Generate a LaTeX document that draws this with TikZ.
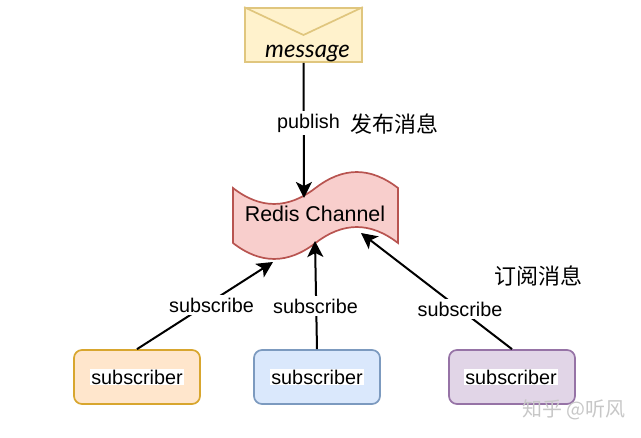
\documentclass[tikz,border=0pt]{standalone}
\usepackage{fontspec}
\setmainfont{Liberation Sans}
\newfontfamily\cjk{Noto Sans CJK SC}
\newfontfamily\hand{Lato}
\usetikzlibrary{arrows.meta}
\definecolor{envfill}{HTML}{FFF2CC}
\definecolor{envline}{HTML}{E0C67E}
\definecolor{wavefill}{HTML}{F8CECC}
\definecolor{waveline}{HTML}{B85450}
\definecolor{orangefill}{HTML}{FFE6CC}
\definecolor{orangeline}{HTML}{D8A62E}
\definecolor{bluefill}{HTML}{DAE8FC}
\definecolor{blueline}{HTML}{7C9ABF}
\definecolor{purplefill}{HTML}{E1D5E7}
\definecolor{purpleline}{HTML}{9673A6}
\tikzset{
  x=1pt,y=-1pt,
  subbox/.style={draw=#1line,fill=#1fill,line width=1.7pt,rounded corners=8pt,minimum width=126pt,minimum height=54pt,inner sep=0pt},
  subtext/.style={fill=white,font=\fontsize{19.8}{22}\selectfont,inner sep=1pt},
  conn/.style={line width=2pt,-{Stealth[length=16pt,width=16pt,inset=4pt]},black},
  lbl/.style={fill=white,font=\fontsize{19.8}{22}\selectfont,inner xsep=1pt,inner ysep=3pt,text=black},
  cn/.style={font=\cjk\fontsize{22}{26}\selectfont,text=black,inner sep=0pt},
}
\begin{document}
\begin{tikzpicture}
\useasboundingbox (0,0) rectangle (641,438);
% envelope
\node[draw=envline,fill=envfill,line width=1.7pt,minimum width=117pt,minimum height=54pt,inner sep=0pt] (msg) at (303.5,35) {};
\coordinate (flap) at (303.5,35);
\draw[envline,line width=1.7pt] (msg.north west) -- (flap) -- (msg.north east);
\node[font=\hand\itshape\fontsize{24}{26}\selectfont,inner sep=0pt,text=black] (msgtext) at (307.5,54) {message};
% wave
\draw[draw=waveline,fill=wavefill,line width=1.7pt]
  (233,188) .. controls (260.3,209.3) and (287.8,209.3) .. (315.5,188)
  .. controls (343.2,166.7) and (370.3,166.7) .. (398,188)
  -- (398,243)
  .. controls (370.3,221.7) and (343.2,221.7) .. (315.5,243)
  .. controls (287.8,264.3) and (260.3,264.3) .. (233,243) -- cycle;
\node[font=\fontsize{21.4}{24}\selectfont,inner sep=0pt,text=black] (redis) at (315,214) {Redis Channel};
\coordinate (topin) at (304,198);
\coordinate (leftin) at (273,262);
\coordinate (midin) at (315,241);
\coordinate (rightin) at (361,233);
% boxes
\node[subbox=orange] (s1) at (137,377) {};
\node[subbox=blue] (s2) at (317,377) {};
\node[subbox=purple] (s3) at (512,377) {};
\node[subtext] (t1) at (137,377) {subscriber};
\node[subtext] (t2) at (317,377) {subscriber};
\node[subtext] (t3) at (511,377) {subscriber};
% connectors
\draw[conn] (msg.south) -- (topin);
\draw[conn] (s1.north) -- (leftin);
\draw[conn] (s2.north) -- (midin);
\draw[conn] (s3.north) -- (rightin);
% connector labels
\node[lbl] (l0) at (308.5,123) {publish};
\node[lbl] (l1) at (211.5,305) {subscribe};
\node[lbl] (l2) at (315.5,306) {subscribe};
\node[lbl] (l3) at (460,309) {subscribe};
% notes
\node[cn] (c1) at (394,124) {发布消息};
\node[cn] (c2) at (538,276) {订阅消息};
\node[font=\cjk\fontsize{20}{24}\selectfont,text=black!22,inner sep=0pt] (wm) at (574,410) {知乎 @听风};
\end{tikzpicture}
\end{document}
